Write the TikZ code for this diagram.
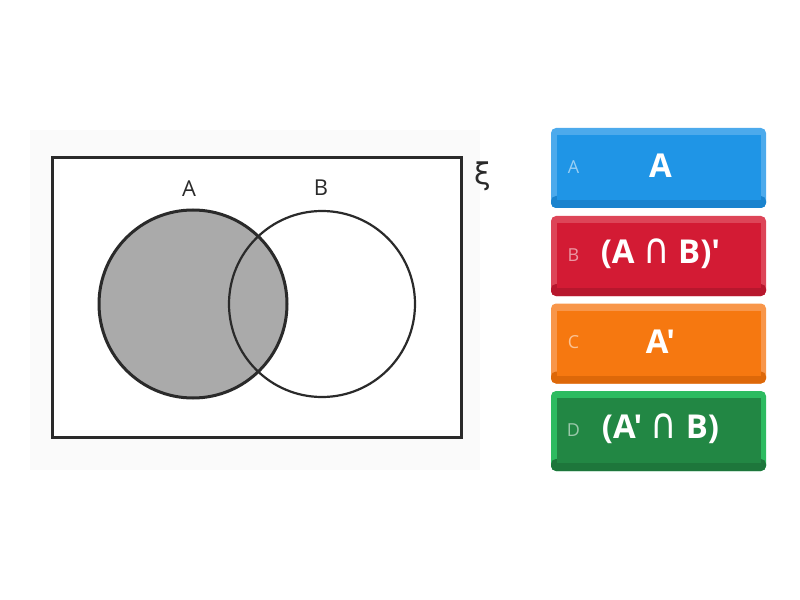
\documentclass[tikz,border=0pt]{standalone}
\usepackage{fontspec}
\setmainfont{Open Sans}
\newfontfamily\ansfont{Open Sans}
\newfontfamily\symfont{DejaVu Sans}
\usetikzlibrary{positioning}
\definecolor{bluemain}{HTML}{1F95E6}
\definecolor{bluelight}{HTML}{4CAAEC}
\definecolor{bluedark}{HTML}{1A83CE}
\definecolor{redmain}{HTML}{D31B34}
\definecolor{redlight}{HTML}{DD4558}
\definecolor{reddark}{HTML}{B7172D}
\definecolor{orangemain}{HTML}{F67810}
\definecolor{orangelight}{HTML}{F8964A}
\definecolor{orangedark}{HTML}{DD6809}
\definecolor{greenmain}{HTML}{228744}
\definecolor{greenlight}{HTML}{2DBB60}
\definecolor{greendark}{HTML}{1D763B}
\definecolor{venngray}{HTML}{AAAAAA}
\definecolor{vennline}{HTML}{2A2A2A}
\newcommand{\capsym}{{\symfont\mdseries\scalebox{1.1}[1.3]{∩}}}
\tikzset{%
pics/.cd,
answer/.style args={#1#2#3#4}{
  code={\fill[#1light,rounded corners=5] (-107.5,-40) rectangle (107.5,40);
        \fill[#1dark,rounded corners=5] (-107.5,28) rectangle (107.5,40);
        \fill[#1main] (-102,-33) rectangle (102,32);
        \node[text=white,opacity=0.55,font=\fontsize{18}{20}\selectfont] (#4-key) at (-85,-1) {#2};
        \node[text=white,font=\ansfont\bfseries\fontsize{33}{38}\selectfont] (#4) at (2,-2) {#3};
  }
},
}

\begin{document}
\begin{tikzpicture}[x=1bp,y=-1bp]
    \useasboundingbox (0,0) rectangle (800,600);
    \fill[black!2] (30,130) rectangle (480,470);
    % universal set and the two sets
    \fill[white] (52,158) rectangle (461,437);
    \fill[venngray] (193,304) circle (94);
    \draw[vennline,line width=2.2bp] (322,304) circle (93);
    \draw[vennline,line width=3bp] (193,304) circle (94);
    \draw[vennline,line width=3bp] (52,158) rectangle (461,437);
    \node[text=vennline,font=\fontsize{22}{24}\selectfont] (labA) at (189,189) {A};
    \node[text=vennline,font=\fontsize{22}{24}\selectfont] (labB) at (321,188) {B};
    \node[text=vennline,font=\symfont\fontsize{30}{32}\selectfont] (xi) at (483,176) {ξ};
    % answer buttons
    \pic at (658.5,168) {answer={blue}{A}{A}{optA}};
    \pic at (658.5,256) {answer={red}{B}{(A \capsym\ B)'}{optB}};
    \pic at (658.5,343.5) {answer={orange}{C}{A'}{optC}};
    \pic at (658.5,431) {answer={green}{D}{(A' \capsym\ B)}{optD}};
\end{tikzpicture}
\end{document}
